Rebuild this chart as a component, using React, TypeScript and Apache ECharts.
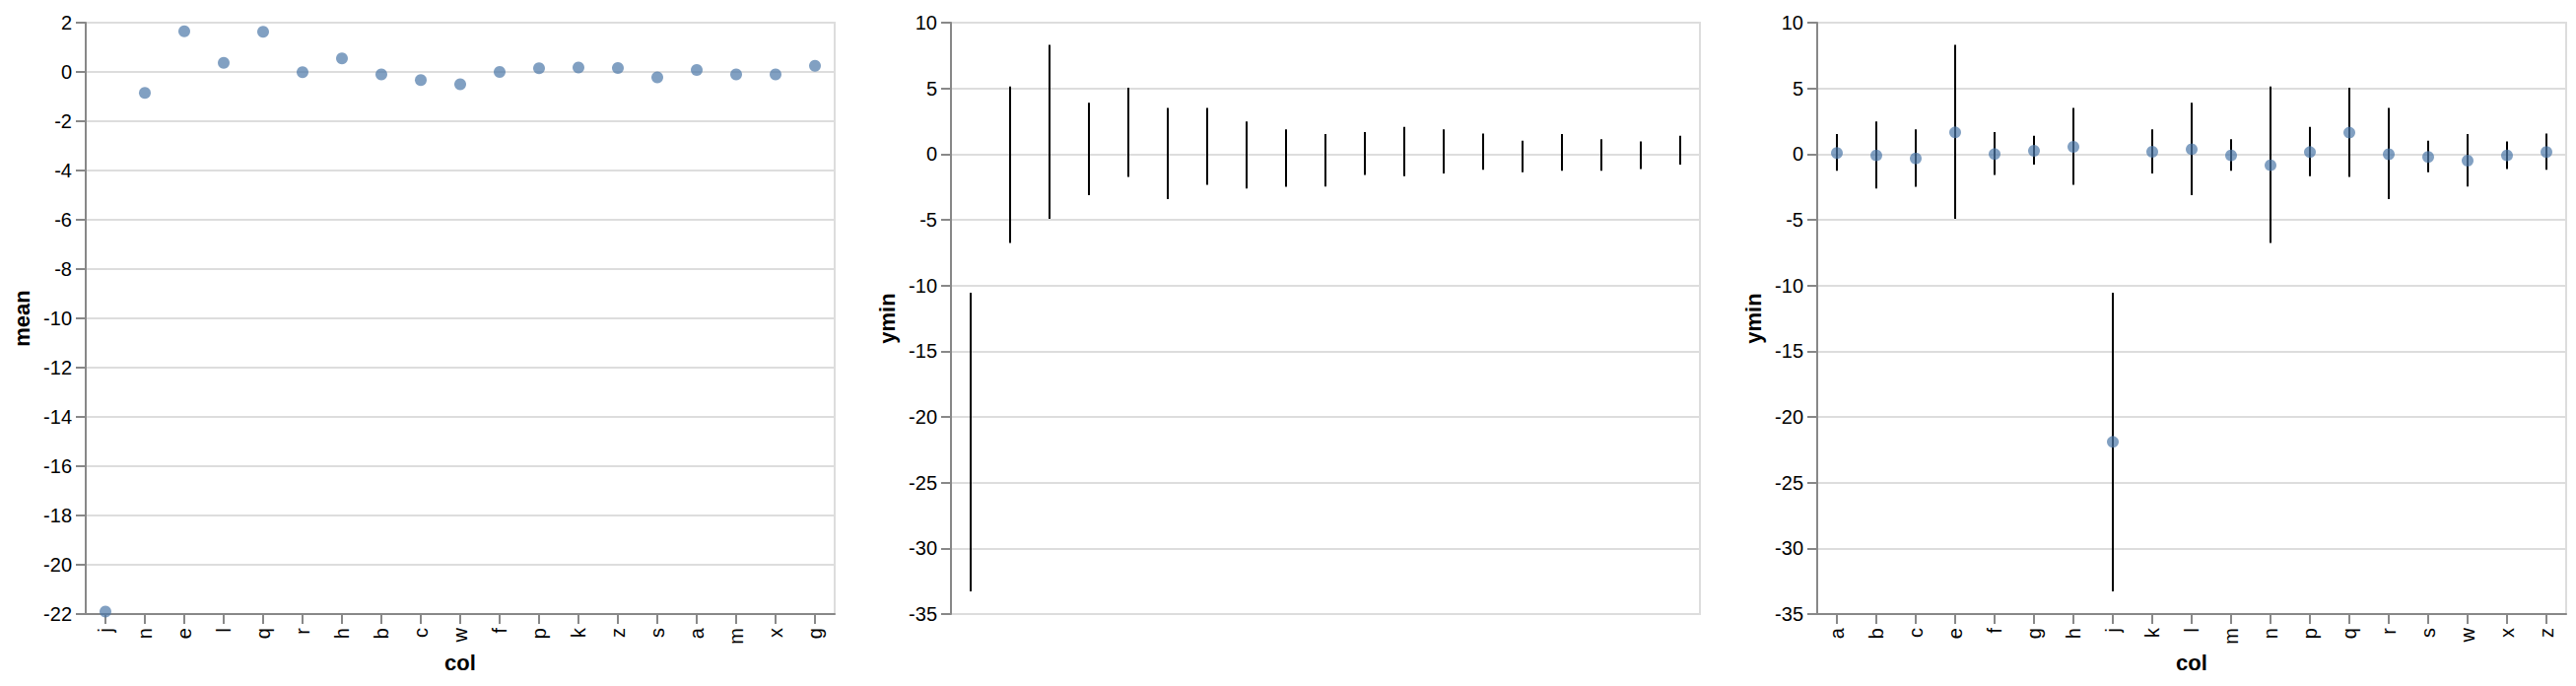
import React, { useEffect, useRef } from "react";
import * as echarts from "echarts";

// Categories (alphabetical) and their statistics
const letters = ["a", "b", "c", "e", "f", "g", "h", "j", "k", "l", "m", "n", "p", "q", "r", "s", "w", "x", "z"];
const means = [0.08, -0.1, -0.33, 1.65, 0.0, 0.25, 0.55, -21.9, 0.18, 0.37, -0.1, -0.85, 0.15, 1.63, -0.01, -0.22, -0.5, -0.1, 0.16];
const ymins = [-1.27, -2.61, -2.49, -4.93, -1.59, -0.8, -2.34, -33.27, -1.47, -3.13, -1.27, -6.77, -1.69, -1.74, -3.43, -1.39, -2.46, -1.14, -1.19];
const ymaxs = [1.52, 2.49, 1.89, 8.31, 1.67, 1.39, 3.51, -10.55, 1.89, 3.9, 1.14, 5.15, 2.06, 5.05, 3.51, 1.02, 1.52, 0.97, 1.57];

// Order used in the first two panels
const sortedOrder = ["j", "n", "e", "l", "q", "r", "h", "b", "c", "w", "f", "p", "k", "z", "s", "a", "m", "x", "g"];

// Tick settings
const meanAxis = { min: -22, max: 2, interval: 2 };
const rangeAxis = { min: -35, max: 10, interval: 5 };

const FONT = "'Liberation Sans', Arial, Helvetica, sans-serif";

export default function App() {
  const ref = useRef<HTMLDivElement>(null);

  useEffect(() => {
    if (!ref.current) return;
    const chart = echarts.init(ref.current, null, { renderer: "svg" });

    const idx = (c: string) => letters.indexOf(c);
    const meanSorted = sortedOrder.map((c) => [c, means[idx(c)]]);
    const ruleSorted = sortedOrder.map((c) => [c, ymins[idx(c)], ymaxs[idx(c)]]);
    const ruleAlpha = letters.map((c, i) => [c, ymins[i], ymaxs[i]]);
    const meanAlpha = letters.map((c, i) => [c, means[i]]);

    const gridBase = { top: 23, width: 760, height: 600, show: true, borderColor: "#ddd", borderWidth: 2, containLabel: false };
    const lefts = [87, 965, 1844];

    const titleStyle = { fontSize: 22, fontWeight: "bold", color: "#000", fontFamily: FONT };

    const xAxis = (gridIndex: number, data: string[], visible: boolean) => ({
      type: "category",
      gridIndex,
      data,
      show: visible,
      boundaryGap: true,
      axisLine: { show: true, onZero: false, lineStyle: { color: "#888", width: 2 } },
      axisTick: { show: true, alignWithLabel: true, length: 10, lineStyle: { color: "#888", width: 2 } },
      axisLabel: { rotate: 90, margin: 14, fontSize: 20, color: "#000", fontFamily: FONT, interval: 0 },
      splitLine: { show: false },
      name: visible ? "col" : "",
      nameLocation: "middle",
      nameGap: 38,
      nameTextStyle: { ...titleStyle, verticalAlign: "top" },
    });

    const yAxis = (gridIndex: number, name: string, ax: { min: number; max: number; interval: number }) => ({
      type: "value",
      gridIndex,
      min: ax.min,
      max: ax.max,
      interval: ax.interval,
      axisLine: { show: true, onZero: false, lineStyle: { color: "#888", width: 2 } },
      axisTick: { show: true, length: 10, lineStyle: { color: "#888", width: 2 } },
      axisLabel: { margin: 14, fontSize: 20, color: "#000", fontFamily: FONT },
      splitLine: { show: true, lineStyle: { color: "#ddd", width: 2 } },
      name,
      nameLocation: "middle",
      nameRotate: 90,
      nameGap: 54,
      nameTextStyle: titleStyle,
    });

    const ruleRender = (params: any, api: any) => {
      const x = api.value(0);
      const p1 = api.coord([x, api.value(1)]);
      const p2 = api.coord([x, api.value(2)]);
      return {
        type: "line",
        shape: { x1: p1[0], y1: p1[1], x2: p2[0], y2: p2[1] },
        style: { stroke: "#000", lineWidth: 2 },
      };
    };

    const pointStyle = { color: "#4c78a8", opacity: 0.7 };

    chart.setOption({
      animation: false,
      backgroundColor: "#fff",
      grid: lefts.map((left) => ({ ...gridBase, left })),
      xAxis: [xAxis(0, sortedOrder, true), xAxis(1, sortedOrder, false), xAxis(2, letters, true)],
      yAxis: [yAxis(0, "mean", meanAxis), yAxis(1, "ymin", rangeAxis), yAxis(2, "ymin", rangeAxis)],
      series: [
        {
          type: "scatter",
          xAxisIndex: 0,
          yAxisIndex: 0,
          data: meanSorted,
          symbolSize: 12,
          itemStyle: pointStyle,
        },
        {
          type: "custom",
          xAxisIndex: 1,
          yAxisIndex: 1,
          data: ruleSorted,
          encode: { x: 0, y: [1, 2] },
          renderItem: ruleRender,
        },
        {
          type: "custom",
          xAxisIndex: 2,
          yAxisIndex: 2,
          data: ruleAlpha,
          encode: { x: 0, y: [1, 2] },
          renderItem: ruleRender,
        },
        {
          type: "scatter",
          xAxisIndex: 2,
          yAxisIndex: 2,
          data: meanAlpha,
          symbolSize: 12,
          itemStyle: pointStyle,
        },
      ],
    });

    return () => chart.dispose();
  }, []);

  return (
    <div
      ref={ref}
      style={{ position: "fixed", left: 0, top: 0, width: 2614, height: 696, background: "#fff" }}
    />
  );
}
